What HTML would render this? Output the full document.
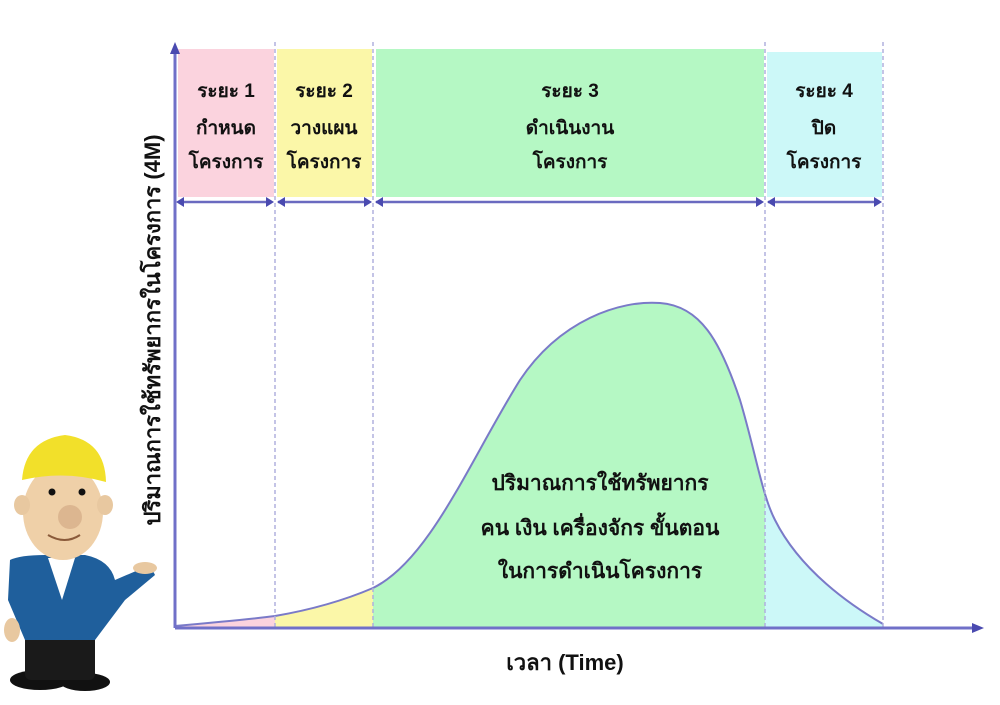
<!DOCTYPE html>
<html><head><meta charset="utf-8"><style>
body{margin:0;background:#fff;width:1000px;height:700px;overflow:hidden}
svg text{font-family:"Liberation Sans","Noto Sans CJK SC",sans-serif;font-weight:bold;fill:#111}
</style></head><body>
<svg width="1000" height="700" viewBox="0 0 1000 700" xmlns="http://www.w3.org/2000/svg">
<defs>
<path id="area" d="M175,626 C220,622 260,618 275,616 C310,610 345,600 373,588 C430,560 470,460 520,380 C560,320 620,300 660,303 C700,306 720,340 740,400 C755,450 762,495 775,520 C800,570 850,605 883,624 L883,628 L175,628Z"/>
<clipPath id="c1"><rect x="175" y="0" width="100" height="700"/></clipPath>
<clipPath id="c2"><rect x="275" y="0" width="98" height="700"/></clipPath>
<clipPath id="c3"><rect x="373" y="0" width="392" height="700"/></clipPath>
<clipPath id="c4"><rect x="765" y="0" width="118" height="700"/></clipPath>
</defs>
<!-- top boxes -->
<rect x="178" y="49" width="96" height="148" fill="#fbd3de"/>
<rect x="277" y="49" width="95" height="148" fill="#fbf7a8"/>
<rect x="376" y="49" width="388" height="148" fill="#b5f8c4"/>
<rect x="767" y="52" width="115" height="145" fill="#ccf8f8"/>
<!-- areas -->
<use href="#area" fill="#fbd3de" clip-path="url(#c1)"/>
<use href="#area" fill="#fbf7a8" clip-path="url(#c2)"/>
<use href="#area" fill="#b5f8c4" clip-path="url(#c3)"/>
<use href="#area" fill="#ccf8f8" clip-path="url(#c4)"/>
<path d="M175,626 C220,622 260,618 275,616 C310,610 345,600 373,588 C430,560 470,460 520,380 C560,320 620,300 660,303 C700,306 720,340 740,400 C755,450 762,495 775,520 C800,570 850,605 883,624" fill="none" stroke="#7a7ac8" stroke-width="2"/>
<!-- dashed lines -->
<g stroke="#b0b0dd" stroke-width="1.5" stroke-dasharray="4,3">
<line x1="275" y1="42" x2="275" y2="628"/><line x1="373" y1="42" x2="373" y2="628"/>
<line x1="765" y1="42" x2="765" y2="628"/><line x1="883" y1="42" x2="883" y2="628"/>
</g>
<!-- arrows row -->
<g stroke="#6a6ac0" stroke-width="2.5">
<line x1="178" y1="202" x2="272" y2="202"/><line x1="278" y1="202" x2="370" y2="202"/>
<line x1="376" y1="202" x2="762" y2="202"/><line x1="768" y1="202" x2="880" y2="202"/>
</g>
<g fill="#4a4ab0">
<path d="M176,202 l8,-5 v10z"/><path d="M274,202 l-8,-5 v10z"/>
<path d="M277,202 l8,-5 v10z"/><path d="M372,202 l-8,-5 v10z"/>
<path d="M375,202 l8,-5 v10z"/><path d="M764,202 l-8,-5 v10z"/>
<path d="M767,202 l8,-5 v10z"/><path d="M882,202 l-8,-5 v10z"/>
</g>
<!-- axes -->
<line x1="175" y1="50" x2="175" y2="628" stroke="#7070c8" stroke-width="3"/>
<line x1="175" y1="628" x2="975" y2="628" stroke="#7070c8" stroke-width="3"/>
<path d="M175,42 l-5,12 h10z" fill="#4a4ab0"/>
<path d="M984,628 l-12,-5 v10z" fill="#4a4ab0"/>
<!-- box texts -->
<g font-size="19" text-anchor="middle">
<text x="226" y="97">ระยะ 1</text><text x="226" y="134">กำหนด</text><text x="226" y="168">โครงการ</text>
<text x="324" y="97">ระยะ 2</text><text x="324" y="134">วางแผน</text><text x="324" y="168">โครงการ</text>
<text x="570" y="97">ระยะ 3</text><text x="570" y="134">ดำเนินงาน</text><text x="570" y="168">โครงการ</text>
<text x="824" y="97">ระยะ 4</text><text x="824" y="134">ปิด</text><text x="824" y="168">โครงการ</text>
</g>
<g font-size="21" text-anchor="middle">
<text x="600" y="490">ปริมาณการใช้ทรัพยากร</text>
<text x="600" y="535">คน เงิน เครื่องจักร ขั้นตอน</text>
<text x="600" y="578">ในการดำเนินโครงการ</text>
</g>
<text x="565" y="670" font-size="22" text-anchor="middle">เวลา (Time)</text>
<text transform="translate(160,330) rotate(-90)" font-size="22" text-anchor="middle">ปริมาณการใช้ทรัพยากรในโครงการ (4M)</text>
<!-- cartoon man -->
<g>
<ellipse cx="40" cy="680" rx="30" ry="10" fill="#111"/><ellipse cx="85" cy="682" rx="25" ry="9" fill="#111"/>
<rect x="25" y="630" width="70" height="50" rx="6" fill="#1a1a1a"/>
<path d="M10,560 Q20,555 45,555 L85,555 Q110,560 115,580 L150,565 L155,575 L125,600 L95,640 L25,640 L8,600Z" fill="#1f5f9c"/>
<path d="M48,558 L62,600 L75,558Z" fill="#fff"/>
<ellipse cx="145" cy="568" rx="12" ry="6" fill="#e8c8a0"/>
<ellipse cx="12" cy="630" rx="8" ry="12" fill="#e8c8a0"/>
<ellipse cx="63" cy="512" rx="40" ry="48" fill="#efd0a8"/>
<ellipse cx="22" cy="505" rx="8" ry="10" fill="#e8c8a0"/><ellipse cx="105" cy="505" rx="8" ry="10" fill="#e8c8a0"/>
<circle cx="52" cy="492" r="3.5" fill="#111"/><circle cx="82" cy="492" r="3.5" fill="#111"/>
<circle cx="70" cy="517" r="12" fill="#dcb690"/>
<path d="M48,535 Q65,545 80,535" stroke="#8a5a3a" stroke-width="2" fill="none"/>
<path d="M22,480 Q25,440 65,435 Q105,440 106,482 Q65,470 22,480Z" fill="#f2e02a"/>
</g>
</svg>
</body></html>
